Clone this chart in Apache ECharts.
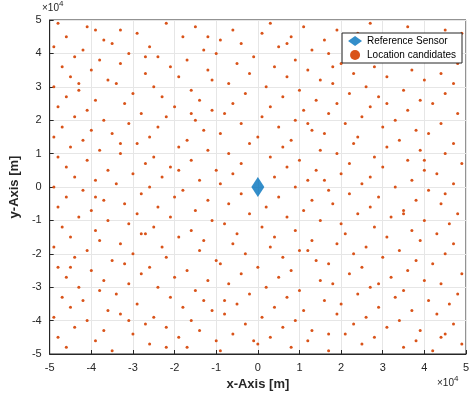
<!DOCTYPE html>
<html><head><meta charset="utf-8">
<script src="https://cdn.jsdelivr.net/npm/echarts@6/dist/echarts.min.js"></script>
<style>html,body{margin:0;padding:0;background:#fff}#c{width:474px;height:401px}</style>
</head><body><div id="c"></div>
<script>
// values in units of 1e3 m (axis shows x10^4)
const xTicks = [-50,-40,-30,-20,-10,0,10,20,30,40,50];
const sensor = [[0,0]];
const candFlat = [
-48,49,-41,48,-33,47,-22,49,-15,48,-6,47,3,49,11,48,19,47,27,49,36,48,45,47,
-46,45,-37,44,-29,46,-18,45,-9,44,1,46,8,45,16,44,24,46,33,45,41,44,49,46,
-49,42,-42,41,-35,43,-26,42,-13,41,-4,43,5,42,13,41,21,43,30,42,38,41,46,43,
-44,39,-38,38,-31,40,-24,39,-17,38,-10,40,-1,39,9,38,17,40,25,39,34,38,43,40,
-47,36,-40,35,-33,37,-21,36,-12,35,-5,37,4,36,12,35,20,37,28,36,37,35,48,37,
-45,33,-36,32,-27,34,-19,33,-11,32,-2,34,7,33,15,32,23,34,31,33,40,32,44,34,
-49,30,-43,29,-34,31,-25,30,-16,29,-7,31,2,30,10,29,18,31,26,30,35,29,47,31,
-46,27,-39,26,-30,28,-23,27,-14,26,-3,28,6,27,14,26,22,28,29,27,39,26,45,28,
-48,24,-41,23,-32,25,-20,24,-11,23,-6,25,3,24,11,23,19,25,27,24,36,23,42,25,
-44,21,-37,20,-28,22,-22,21,-15,20,-8,22,1,21,9,20,17,22,25,21,33,20,48,22,
-47,18,-40,17,-31,19,-24,18,-13,17,-4,19,5,18,13,17,21,19,30,18,38,17,44,19,
-49,15,-42,14,-35,16,-26,15,-17,14,-9,16,0,15,8,14,16,16,24,15,34,14,41,16,
-45,12,-38,11,-29,13,-19,12,-12,11,-2,13,6,12,15,11,23,13,31,12,39,11,47,13,
-48,9,-41,8,-33,10,-25,9,-16,8,-7,10,3,9,10,8,19,10,28,9,36,8,45,10,
-46,6,-36,5,-27,7,-21,6,-10,5,-4,7,7,6,14,5,22,7,30,6,40,5,49,7,
-44,3,-39,2,-30,4,-23,3,-14,2,-6,4,4,3,12,2,20,4,27,3,37,2,43,4,
-49,0,-42,-1,-34,1,-26,0,-18,-1,-9,1,9,0,17,-1,25,1,33,0,41,-1,47,1,
-46,-3,-37,-4,-28,-2,-20,-3,-12,-4,-4,-2,5,-3,13,-4,22,-2,29,-3,38,-4,45,-2,
-48,-6,-40,-7,-32,-5,-24,-6,-15,-7,-7,-5,2,-6,11,-7,18,-5,27,-6,35,-7,44,-5,
-43,-9,-36,-10,-29,-8,-21,-9,-11,-10,-2,-8,7,-9,15,-10,24,-8,32,-9,40,-10,48,-8,
-47,-12,-39,-13,-31,-11,-25,-12,-16,-13,-8,-11,1,-12,9,-13,20,-11,28,-12,37,-13,46,-11,
-45,-15,-38,-16,-27,-14,-19,-15,-13,-16,-5,-14,4,-15,13,-16,21,-14,31,-15,39,-16,43,-14,
-49,-18,-41,-19,-33,-17,-23,-18,-14,-19,-6,-17,3,-18,12,-19,19,-17,26,-18,34,-19,47,-17,
-44,-21,-35,-22,-30,-20,-22,-21,-10,-22,-3,-20,6,-21,14,-22,23,-20,30,-21,38,-22,45,-20,
-48,-24,-40,-25,-32,-23,-26,-24,-17,-25,-9,-23,0,-24,8,-25,17,-23,25,-24,36,-25,42,-23,
-46,-27,-37,-28,-28,-26,-20,-27,-12,-28,-4,-26,5,-27,15,-28,22,-26,32,-27,40,-28,49,-26,
-43,-30,-38,-31,-31,-29,-24,-30,-15,-31,-7,-29,2,-30,10,-31,18,-29,27,-30,35,-31,44,-29,
-47,-33,-42,-34,-34,-32,-21,-33,-13,-34,-2,-32,7,-33,16,-34,24,-32,33,-33,41,-34,48,-32,
-45,-36,-36,-37,-29,-35,-18,-36,-11,-37,-5,-35,4,-36,11,-37,20,-35,29,-36,37,-37,46,-35,
-49,-39,-41,-40,-33,-38,-25,-39,-16,-40,-8,-38,1,-39,9,-40,19,-38,26,-39,34,-40,43,-38,
-44,-42,-37,-43,-27,-41,-22,-42,-14,-43,-3,-41,6,-42,13,-43,23,-41,31,-42,39,-43,47,-41,
-48,-45,-39,-46,-30,-44,-19,-45,-10,-46,-6,-44,3,-45,12,-46,21,-44,28,-45,38,-46,45,-44,
-46,-48,-35,-49,-26,-47,-17,-48,-9,-49,0,-47,8,-48,17,-49,25,-47,35,-48,42,-49,49,-47,
-39,47,-12,45,7,43,-27,39,18,36,-43,31,31,25,-16,22,12,19,-33,13,40,8,-19,5,16,2,-39,-3,
35,-8,-28,-14,10,-19,-45,-24,29,-29,-8,-34,-31,-40,17,-44,-22,-48,44,-45,-1,-46
];
const candidates = [];
for (let i = 0; i < candFlat.length; i += 2) candidates.push([candFlat[i], candFlat[i+1]]);

const chart = echarts.init(document.getElementById('c'));
const axisCommon = {
  min: -50, max: 50, interval: 10,
  axisLine: {onZero: false, lineStyle: {color: '#262626'}},
  axisTick: {inside: true, length: 4, lineStyle: {color: '#262626'}},
  splitLine: {show: true, lineStyle: {color: '#e6e6e6'}},
  axisLabel: {color: '#262626', fontSize: 11, fontFamily: 'Liberation Sans', formatter: v => String(v/10)}
};
chart.setOption({
  animation: false,
  grid: {left: 42, right: 8, top: 20, bottom: 47, show: true, borderColor: '#262626', borderWidth: 1},
  xAxis: Object.assign({}, axisCommon, {type: 'value', name: 'x-Axis [m]', nameLocation: 'middle', nameGap: 22,
    nameTextStyle: {fontWeight: 'bold', fontSize: 13, color: '#262626', fontFamily: 'Liberation Sans'}}),
  yAxis: Object.assign({}, axisCommon, {type: 'value', name: 'y-Axis [m]', nameLocation: 'middle', nameGap: 24,
    nameTextStyle: {fontWeight: 'bold', fontSize: 13, color: '#262626', fontFamily: 'Liberation Sans'}}),
  graphic: [
    {type: 'text', left: 42, top: 3, style: {text: '×10', font: '10px Liberation Sans', fill: '#262626'}},
    {type: 'text', left: 59, top: 0, style: {text: '4', font: '8px Liberation Sans', fill: '#262626'}},
    {type: 'text', left: 437, top: 378, style: {text: '×10', font: '10px Liberation Sans', fill: '#262626'}},
    {type: 'text', left: 454, top: 375, style: {text: '4', font: '8px Liberation Sans', fill: '#262626'}}
  ],
  legend: {
    orient: 'vertical', right: 12, top: 33, itemWidth: 14, itemHeight: 10, itemGap: 4,
    backgroundColor: '#fff', borderColor: '#262626', borderWidth: 1, padding: [3, 6, 3, 6],
    textStyle: {fontSize: 10, color: '#000', fontFamily: 'Liberation Sans'},
    data: ['Reference Sensor', 'Location candidates']
  },
  series: [
    {name: 'Location candidates', type: 'scatter', data: candidates, symbolSize: 3, itemStyle: {color: '#D95319', opacity: 1}, z: 2},
    {name: 'Reference Sensor', type: 'scatter', data: sensor, symbol: 'diamond', symbolSize: [13, 20], itemStyle: {color: '#0072BD'}, z: 3}
  ]
});
</script></body></html>
